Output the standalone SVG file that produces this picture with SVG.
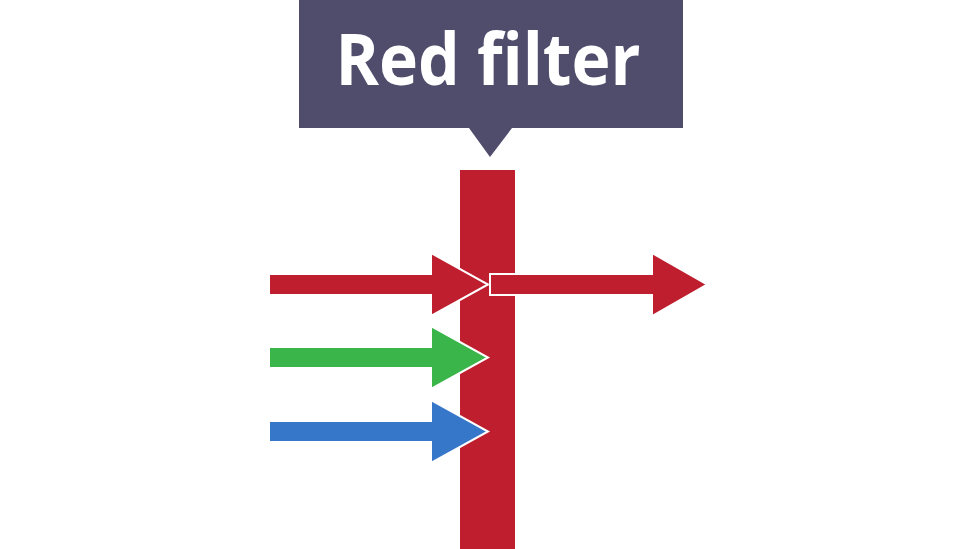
<svg xmlns="http://www.w3.org/2000/svg" width="976" height="549" viewBox="0 0 976 549">
<style>
.lbl{font-family:"Open Sans","Liberation Sans",sans-serif;font-weight:bold;fill:#fff}
.ar{stroke:#fff;stroke-width:2;stroke-linejoin:miter}
</style>
<rect width="976" height="549" fill="#fff"/>
<g id="filter">
<rect x="460" y="170" width="55" height="379" fill="#BE1E2D"/>
</g>
<g id="callout">
<path d="M299 0H683V128H512L490 157L469 128H299Z" fill="#4F4D6B"/>
<text class="lbl" x="488" y="85" font-size="72" text-anchor="middle" textLength="305" lengthAdjust="spacingAndGlyphs">Red filter</text>
</g>
<g id="connectors">
<path class="ar" d="M269 274H431V253L488 284.5L431 316V295H269Z" fill="#BE1E2D"/>
<path class="ar" d="M490 274H652V253L707 284.5L652 316V295H490Z" fill="#BE1E2D"/>
<path class="ar" d="M269 347H431V326L488 357.5L431 389V368H269Z" fill="#39B54A"/>
<path class="ar" d="M269 421H431V400L488 431.5L431 463V442H269Z" fill="#3677C9"/>
</g>
</svg>
